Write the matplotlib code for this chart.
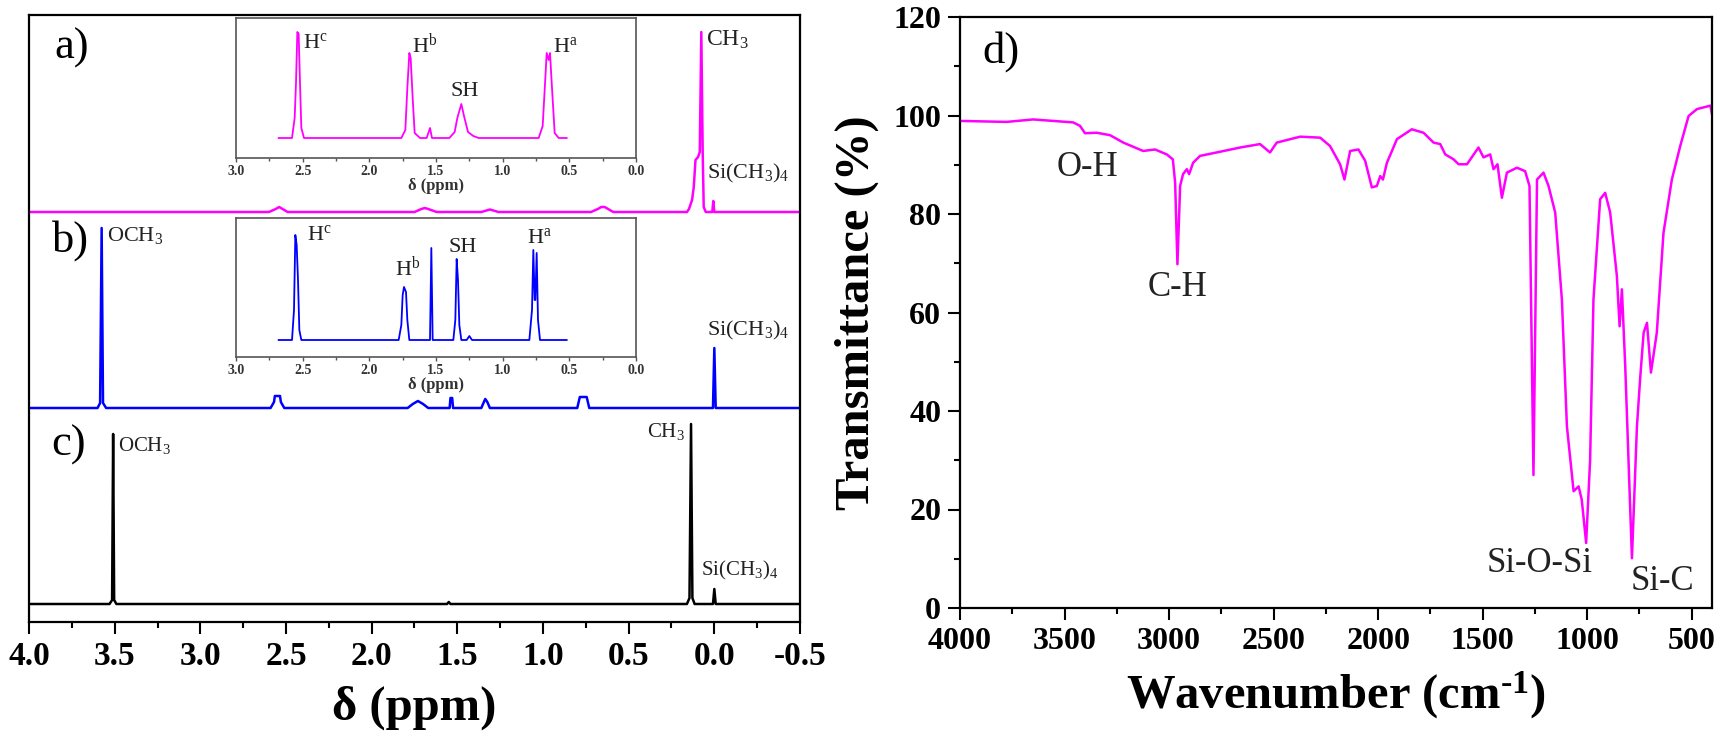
import numpy as np
import matplotlib
matplotlib.use("Agg")
import matplotlib.pyplot as plt
from matplotlib.ticker import MultipleLocator

plt.rcParams['font.family'] = ['Liberation Serif', 'DejaVu Serif']
plt.rcParams['mathtext.fontset'] = 'custom'
plt.rcParams['mathtext.rm'] = 'Liberation Serif'
plt.rcParams['mathtext.it'] = 'Liberation Serif:italic'
plt.rcParams['mathtext.bf'] = 'Liberation Serif:bold'
plt.rcParams['axes.unicode_minus'] = False

MAGENTA = '#FF00FF'
BLUE = '#0000FF'

# ---- 1H NMR spectra (ppm, height) ----
ppm_a = [4.0, 2.60, 2.56, 2.54, 2.52, 2.49, 1.75, 1.71, 1.69, 1.67, 1.62,
         1.36, 1.31, 1.26, 0.72, 0.68, 0.66, 0.64, 0.62, 0.59,
         0.16, 0.148, 0.13, 0.12, 0.11, 0.095, 0.085, 0.076, 0.068, 0.062, 0.05,
         0.012, 0.006, 0.0, -0.5]
int_a = [0, 0, 3, 5, 3, 0, 0, 3, 4, 3, 0,
         0, 2.5, 0, 0, 3, 5, 5, 3, 0,
         0, 3, 12, 25, 52, 55, 60, 180, 60, 5, 0,
         0, 11, 0, 0]

ppm_b = [4.0, 3.60, 3.585, 3.576, 3.568, 3.55, 2.59, 2.57, 2.565, 2.535, 2.53, 2.51,
         1.79, 1.76, 1.73, 1.70, 1.67, 1.545, 1.54, 1.53, 1.525,
         1.36, 1.345, 1.337, 1.325, 1.31, 0.80, 0.785, 0.745, 0.73,
         0.008, 0.0, -0.008, -0.5]
int_b = [0, 0, 5, 180, 5, 0, 0, 6, 12, 12, 6, 0,
         0, 4, 7, 4, 0, 0, 10, 10, 0,
         0, 6, 9, 6, 0, 0, 11, 11, 0,
         0, 60, 0, 0]

ppm_c = [4.0, 3.53, 3.515, 3.509, 3.503, 3.49, 1.56, 1.55, 1.54,
         0.16, 0.145, 0.136, 0.128, 0.115, 0.008, 0.0, -0.008, -0.5]
int_c = [0, 0, 4, 170, 4, 0, 0, 2, 0,
         0, 6, 180, 6, 0, 0, 15, 0, 0]

# insets (expanded 2.7 - 0.5 ppm)
ppm_ia = [2.68, 2.58, 2.56, 2.55, 2.54, 2.53, 2.52, 2.51, 2.49,
          1.76, 1.73, 1.715, 1.70, 1.69, 1.675, 1.66, 1.62,
          1.57, 1.545, 1.53, 1.40, 1.36, 1.34, 1.31, 1.29, 1.26, 1.22, 1.18,
          0.73, 0.70, 0.68, 0.67, 0.655, 0.645, 0.63, 0.61, 0.58, 0.52]
int_ia = [0, 0, 20, 55, 106, 104, 55, 10, 0,
          0, 8, 50, 85, 80, 40, 5, 0,
          0, 10, 0, 0, 6, 20, 34, 22, 6, 2, 0,
          0, 12, 60, 85, 78, 85, 50, 5, 0, 0]

ppm_ib = [2.68, 2.58, 2.565, 2.555, 2.545, 2.535, 2.525, 2.51,
          1.78, 1.76, 1.75, 1.74, 1.725, 1.715, 1.70,
          1.545, 1.535, 1.525, 1.37, 1.355, 1.345, 1.335, 1.325, 1.31,
          1.27, 1.25, 1.23, 0.80, 0.78, 0.77, 0.76, 0.755, 0.745, 0.735, 0.72, 0.52]
int_ib = [0, 0, 30, 105, 95, 60, 10, 0,
          0, 15, 45, 53, 48, 20, 0,
          0, 92, 0, 0, 20, 81, 60, 15, 0,
          0, 4, 0, 0, 30, 90, 40, 40, 87, 20, 0, 0]

nmr_ticks = [4.0, 3.5, 3.0, 2.5, 2.0, 1.5, 1.0, 0.5, 0.0, -0.5]
nmr_ticklabels = ['4.0', '3.5', '3.0', '2.5', '2.0', '1.5', '1.0', '0.5', '0.0', '-0.5']
inset_ticks = [3.0, 2.5, 2.0, 1.5, 1.0, 0.5, 0.0]
inset_ticklabels = ['3.0', '2.5', '2.0', '1.5', '1.0', '0.5', '0.0']

# ---- FTIR spectrum ----
wavenumber = [4000, 3777, 3650, 3459, 3426, 3402, 3346, 3282, 3219, 3124, 3067, 3011,
              2982, 2971, 2960, 2947, 2933, 2915, 2904, 2885, 2852, 2772, 2660, 2565,
              2517, 2485, 2373, 2277, 2230, 2182, 2161, 2134, 2094, 2062, 2030, 2006,
              1990, 1977, 1958, 1910, 1839, 1783, 1735, 1703, 1679, 1639, 1615, 1575,
              1520, 1496, 1464, 1448, 1429, 1408, 1384, 1336, 1297, 1276, 1257, 1240,
              1209, 1185, 1153, 1121, 1097, 1065, 1041, 1026, 1005, 986, 970, 938,
              914, 890, 858, 845, 834, 818, 786, 762, 746, 730, 714, 695, 667, 635,
              595, 555, 515, 475, 411, 403]
transmittance = [98.9, 98.7, 99.2, 98.6, 97.9, 96.4, 96.5, 96.0, 94.5, 92.8, 93.1, 92.1,
                 91.1, 86.4, 69.8, 85.7, 88.1, 89.1, 88.1, 90.4, 91.8, 92.5, 93.5, 94.2,
                 92.5, 94.5, 95.7, 95.5, 93.8, 90.1, 87.0, 92.8, 93.1, 90.8, 85.4, 85.7,
                 87.7, 87.0, 90.4, 95.2, 97.2, 96.5, 94.5, 94.2, 92.1, 91.1, 90.1, 90.1,
                 93.5, 91.5, 92.1, 89.1, 90.1, 83.3, 88.4, 89.4, 88.7, 85.7, 27.0, 87.0,
                 88.4, 85.7, 80.3, 62.6, 36.9, 23.7, 24.7, 22.0, 13.2, 30.1, 62.6, 83.0,
                 84.3, 80.3, 67.4, 57.2, 64.7, 49.1, 10.1, 36.9, 47.0, 55.9, 57.9, 47.8,
                 55.9, 76.2, 87.0, 93.8, 99.9, 101.3, 102.0, 100.3]

W, H = 1725, 740
fig = plt.figure(figsize=(W / 100, H / 100), dpi=100)


def px_axes(x0, y0, x1, y1):
    return fig.add_axes([x0 / W, 1 - y1 / H, (x1 - x0) / W, (y1 - y0) / H])


def style_ticks(ax, size):
    ax.tick_params(axis='both', which='major', direction='out', length=8.5, width=1.5,
                   labelsize=size, pad=5)
    ax.tick_params(axis='both', which='minor', direction='out', length=4.5, width=1.5)
    for lbl in ax.get_xticklabels() + ax.get_yticklabels():
        lbl.set_fontweight('bold')
    for s in ax.spines.values():
        s.set_linewidth(1.6)


# ---------------- left: stacked NMR ----------------
ax = px_axes(29, 15, 800, 622)
offsets = {'a': 410, 'b': 214, 'c': 18}
ax.plot(ppm_a, np.array(int_a) + offsets['a'], color=MAGENTA, lw=1.8)
ax.plot(ppm_b, np.array(int_b) + offsets['b'], color=BLUE, lw=1.8)
ax.plot(ppm_c, np.array(int_c) + offsets['c'], color='black', lw=1.8)
ax.set_xlim(4.0, -0.5)
ax.set_ylim(0, 607)
ax.set_yticks([])
ax.set_xticks(nmr_ticks)
ax.set_xticklabels(nmr_ticklabels)
ax.xaxis.set_minor_locator(MultipleLocator(0.25))
style_ticks(ax, 24)
ax.set_xlabel('δ (ppm)', fontsize=35, fontweight='bold', labelpad=10)

ax.text(3.75, 574, 'a)', fontsize=32, ha='center', va='center')
ax.text(3.76, 381, 'b)', fontsize=32, ha='center', va='center')
ax.text(3.77, 177, 'c)', fontsize=32, ha='center', va='center')
ax.text(0.05, 582, r'CH$_3$', fontsize=17, ha='left', va='center', color='#222222')
ax.text(0.045, 449, r'Si(CH$_3$)$_4$', fontsize=16, ha='left', va='center', color='#222222')
ax.text(3.545, 386, r'OCH$_3$', fontsize=16, ha='left', va='center', color='#222222')
ax.text(0.045, 292, r'Si(CH$_3$)$_4$', fontsize=16, ha='left', va='center', color='#222222')
ax.text(3.48, 176, r'OCH$_3$', fontsize=15, ha='left', va='center', color='#222222')
ax.text(0.17, 190, r'CH$_3$', fontsize=15, ha='right', va='center', color='#222222')
ax.text(0.08, 52, r'Si(CH$_3$)$_4$', fontsize=15, ha='left', va='center', color='#222222')


def make_inset(y0, y1, xs, ys, base, color, labels):
    ins = px_axes(236, y0, 636, y1)
    ins.plot(xs, np.array(ys) + base, color=color, lw=1.3)
    ins.set_xlim(3.0, 0.0)
    ins.set_ylim(0, y1 - y0)
    ins.set_yticks([])
    ins.set_xticks(inset_ticks)
    ins.set_xticklabels(inset_ticklabels)
    ins.xaxis.set_minor_locator(MultipleLocator(0.25))
    ins.tick_params(axis='x', which='major', direction='out', length=3, width=1,
                    labelsize=10, pad=2, color='#555555')
    ins.tick_params(axis='x', which='minor', direction='out', length=2, width=1,
                    color='#555555')
    for lbl in ins.get_xticklabels():
        lbl.set_fontweight('bold')
        lbl.set_color('#333333')
    for s in ins.spines.values():
        s.set_linewidth(1.2)
        s.set_color('#555555')
    ins.set_xlabel('δ (ppm)', fontsize=12, fontweight='bold', labelpad=0, color='#333333')
    for (x, y, t) in labels:
        ins.text(x, y, t, fontsize=16, ha='left', va='center', color='#222222')
    return ins


make_inset(18, 158, ppm_ia, int_ia, 20, MAGENTA,
           [(2.50, 115, r'H$^{\mathrm{c}}$'), (1.68, 113, r'H$^{\mathrm{b}}$'),
            (1.39, 66, 'SH'), (0.62, 111, r'H$^{\mathrm{a}}$')])
make_inset(218, 357, ppm_ib, int_ib, 17, BLUE,
           [(2.47, 122, r'H$^{\mathrm{c}}$'), (1.81, 89, r'H$^{\mathrm{b}}$'),
            (1.41, 110, 'SH'), (0.82, 119, r'H$^{\mathrm{a}}$')])

# ---------------- right: FTIR ----------------
ax2 = px_axes(960, 17, 1712, 608)
ax2.plot(wavenumber, transmittance, color=MAGENTA, lw=1.8)
ax2.set_xlim(4000, 403)
ax2.set_ylim(0, 120)
ax2.set_xticks([4000, 3500, 3000, 2500, 2000, 1500, 1000, 500])
ax2.set_yticks([0, 20, 40, 60, 80, 100, 120])
ax2.xaxis.set_minor_locator(MultipleLocator(250))
ax2.yaxis.set_minor_locator(MultipleLocator(10))
style_ticks(ax2, 23)
ax2.set_xlabel(r'Wavenumber (cm$^{\mathbf{\text{-}1}}$)', fontsize=35, fontweight='bold',
               labelpad=10)
ax2.set_ylabel('Transmittance (%)', fontsize=35, fontweight='bold', labelpad=10)

ax2.text(3804, 112.9, 'd)', fontsize=32, ha='center', va='center')
ax2.text(3392, 89.4, 'O-H', fontsize=25, ha='center', va='center', color='#222222')
ax2.text(2962, 65, 'C-H', fontsize=25, ha='center', va='center', color='#222222')
ax2.text(1229, 9.1, 'Si-O-Si', fontsize=25, ha='center', va='center', color='#222222')
ax2.text(641, 5.3, 'Si-C', fontsize=25, ha='center', va='center', color='#222222')

fig.savefig('out.png', dpi=100, facecolor='white')
